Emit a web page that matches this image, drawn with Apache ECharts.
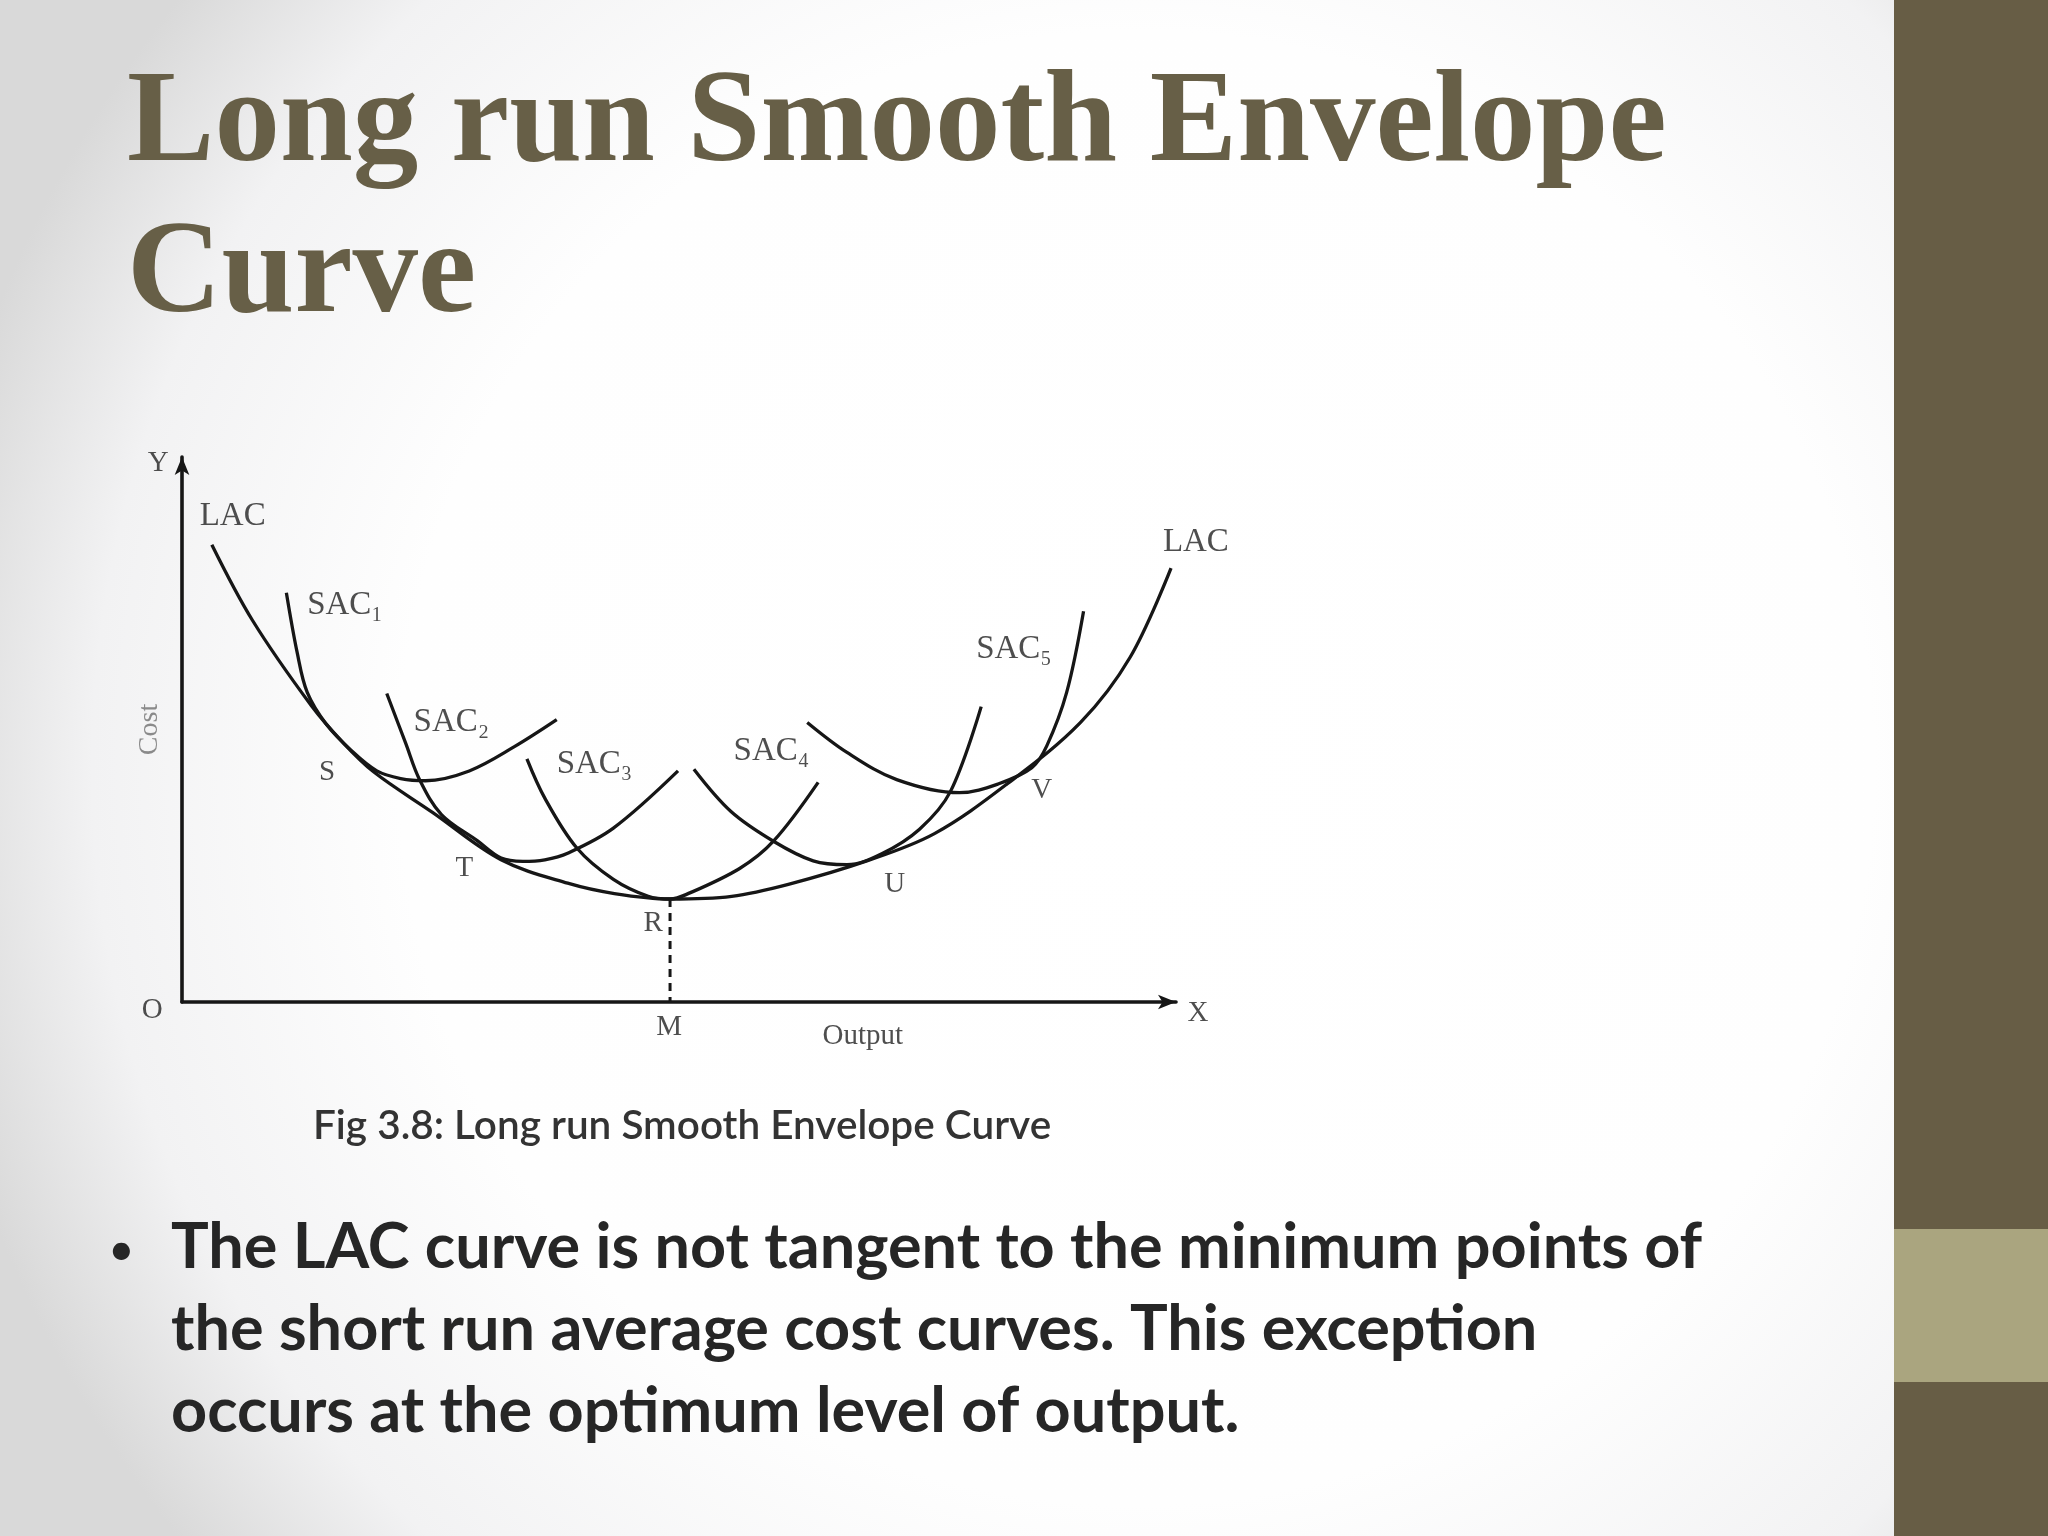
<!DOCTYPE html>
<html><head><meta charset="utf-8">
<script src="https://cdn.jsdelivr.net/npm/echarts@6/dist/echarts.min.js"></script>
<style>html,body{margin:0;padding:0;background:#fff}#c{width:2048px;height:1536px}</style>
</head><body><div id="c"></div>
<script>
// Curve points (x: output, y: cost; arbitrary units 0-100)
const lacCurve = [[3.0,83.9],[7.1,70.0],[13.0,54.4],[16.2,47.6],[19.3,42.2],[25.2,34.8],[32.1,26.1],[38.8,21.8],[43.5,19.9],[49.1,18.9],[55.3,19.4],[61.0,21.6],[68.9,25.9],[75.7,30.9],[83.0,40.0],[90.4,51.3],[95.4,63.3],[99.5,79.6]];
const sac1Curve = [[10.5,75.1],[11.6,64.0],[12.6,56.8],[14.5,51.0],[17.0,46.2],[19.6,42.4],[22.0,41.0],[24.5,40.6],[28.9,42.4],[33.4,46.8],[37.7,51.8]];
const sac2Curve = [[20.6,56.6],[22.5,47.5],[23.9,40.8],[26.1,34.4],[29.7,29.6],[32.1,26.4],[34.3,25.8],[36.5,26.1],[38.8,27.3],[43.4,31.9],[49.9,42.4]];
const sac3Curve = [[34.7,44.6],[36.5,37.4],[39.7,28.3],[43.4,22.5],[46.9,19.4],[49.1,18.9],[50.7,19.7],[56.1,24.5],[59.5,29.5],[64.0,40.3]];
const sac4Curve = [[51.5,42.7],[55.2,35.0],[59.5,29.5],[63.5,25.9],[66.9,25.2],[70.4,27.2],[74.2,31.7],[77.3,38.6],[80.4,54.2]];
const sac5Curve = [[62.9,51.3],[66.9,45.8],[71.9,40.8],[78.2,38.4],[82.1,40.0],[85.5,43.0],[87.0,47.0],[89.0,56.8],[90.7,71.7]];
const optimumLine = [[49.1,18.9],[49.1,0]];
// Text annotations (name, data coordinates)
const curveNames = ['LAC','LAC','SAC\u2081','SAC\u2082','SAC\u2083','SAC\u2084','SAC\u2085'];
const curveNamePos = [[5.1,89.2],[102.0,84.4],[16.4,72.7],[27.1,51.3],[41.5,43.6],[59.3,46.0],[83.7,64.7]];
const pointNames = ['S','T','R','U','V','M','O','Y','X','Output'];
const pointNamePos = [[14.6,42.2],[28.4,24.5],[47.4,14.4],[71.7,21.6],[86.5,38.8],[49.0,-4.6],[-3.0,-1.5],[-2.4,98.8],[102.2,-2.0],[68.5,-6.4]];

const titleLines = ['Long run Smooth Envelope', 'Curve'];
const captionText = 'Fig 3.8: Long run Smooth Envelope Curve';
const bulletLines = ['The LAC curve is not tangent to the minimum points of', 'the short run average cost curves. This exception', 'occurs at the optimum level of output.'];

const chart = echarts.init(document.getElementById('c'), null, {renderer:'canvas'});
const ink = '#161616';
function curve(name, data){
  return {type:'line', name, data, smooth:0.35, showSymbol:false, silent:true,
    lineStyle:{color:ink, width:3.3}, z:3};
}
function labels(names, pos, size){
  return {type:'scatter', symbolSize:0, clip:false, silent:true, z:4,
    data: names.map((n,i)=>({name:n, value:pos[i]})),
    label:{show:true, position:'inside', formatter:p=>p.name, color:'#222222',
      fontFamily:'Liberation Serif, DejaVu Serif, serif', fontSize:size}};
}
const option = {
  animation:false,
  backgroundColor:'#ffffff',
  grid:{left:182, top:457, width:994, height:545, outerBoundsMode:'none'},
  xAxis:{type:'value', min:0, max:100,
    axisLine:{show:true, lineStyle:{color:ink, width:3.6}, symbol:['none','arrow'], symbolSize:[11,18]},
    axisTick:{show:false}, axisLabel:{show:false}, splitLine:{show:false}},
  yAxis:{type:'value', min:0, max:100, name:'Cost', nameLocation:'middle', nameGap:18, nameRotate:90,
    nameTextStyle:{color:'#8a8a8a', fontSize:28, fontFamily:'Liberation Serif, serif'},
    axisLine:{show:true, lineStyle:{color:ink, width:3.6}, symbol:['none','arrow'], symbolSize:[11,18]},
    axisTick:{show:false}, axisLabel:{show:false}, splitLine:{show:false}},
  graphic:[
    {type:'rect', z:-100, silent:true, shape:{x:0,y:0,width:1894,height:1536},
      style:{fill:new echarts.graphic.RadialGradient(0.6,0.5,0.8,[
        {offset:0,color:'#ffffff'},{offset:0.6,color:'#fefefe'},{offset:0.85,color:'#f2f2f3'},{offset:1,color:'#d9d9d9'}])}},
    {type:'rect', z:-90, silent:true, shape:{x:1894,y:0,width:154,height:1536}, style:{fill:'#675d45'}},
    {type:'rect', z:-89, silent:true, shape:{x:1894,y:1229,width:154,height:153}, style:{fill:'#aaa57f'}},
    {type:'text', z:10, x:127, y:126, style:{text:titleLines[0], fill:'#675f47', fontSize:131, fontWeight:'bold',
      fontFamily:'Liberation Serif, serif', verticalAlign:'middle'}},
    {type:'text', z:10, x:127, y:277, style:{text:titleLines[1], fill:'#675f47', fontSize:131, fontWeight:'bold',
      fontFamily:'Liberation Serif, serif', verticalAlign:'middle'}},
    {type:'text', z:10, x:313, y:1126, style:{text:captionText, fill:'#333333', fontSize:40.5, fontWeight:600,
      fontFamily:'Lato, sans-serif', verticalAlign:'middle'}},
    {type:'text', z:10, x:108, y:1250, style:{text:'\u2022', fill:'#262626', fontSize:46,
      fontFamily:'Lato, sans-serif', verticalAlign:'middle'}},
    ...bulletLines.map((t,i)=>({type:'text', z:10, x:171, y:1248+i*82, style:{text:t, fill:'#262626', fontSize:63,
      fontWeight:'bold', fontFamily:'Lato, sans-serif', verticalAlign:'middle'}}))
  ],
  series:[
    curve('LAC', lacCurve),
    curve('SAC1', sac1Curve),
    curve('SAC2', sac2Curve),
    curve('SAC3', sac3Curve),
    curve('SAC4', sac4Curve),
    curve('SAC5', sac5Curve),
    {type:'line', data:optimumLine, showSymbol:false, silent:true, z:3,
      lineStyle:{color:ink, width:3, type:[8,6]}},
    labels(curveNames, curveNamePos, 33),
    labels(pointNames, pointNamePos, 29)
  ]
};
chart.setOption(option);
</script></body></html>
